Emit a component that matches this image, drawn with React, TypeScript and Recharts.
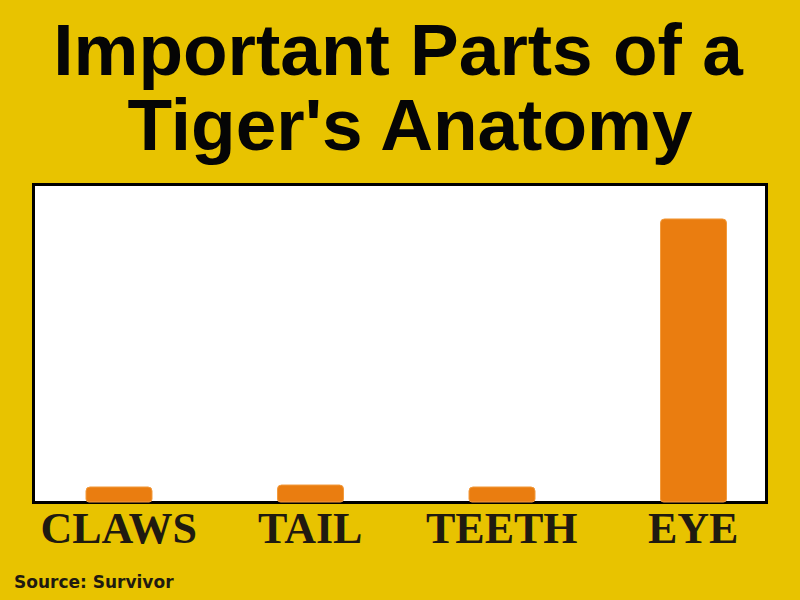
import React from "react";
import { BarChart, Bar, XAxis, YAxis, Cell } from "recharts";

const parts = ["CLAWS", "TAIL", "TEETH", "EYE"];
const importance = [5.3, 6, 5.3, 100];
const yDomain = [0, 112];

const data = parts.map((name, i) => ({ name, value: importance[i] }));

const BG = "#E8C300";
const BAR = "#EA7D10";
const INK = "#1f1a10";

function PartTick(props: any) {
  const { x, y, payload } = props;
  return (
    <text
      x={x}
      y={y}
      dy={41}
      textAnchor="middle"
      fill={INK}
      fontFamily="'Liberation Serif', 'Times New Roman', serif"
      fontWeight={700}
      fontSize={44}
    >
      {payload.value}
    </text>
  );
}

export default function App() {
  return (
    <div
      style={{
        position: "fixed",
        left: 0,
        top: 0,
        width: 800,
        height: 600,
        background: BG,
        overflow: "hidden",
      }}
    >
      <div
        style={{
          position: "absolute",
          left: 0,
          top: 12,
          width: 800,
          textAlign: "center",
          fontFamily: "'Liberation Sans', Arial, sans-serif",
          fontWeight: 700,
          fontSize: 73,
          lineHeight: "75px",
          color: "#050505",
        }}
      >
        <span style={{ display: "block", marginLeft: -4 }}>Important Parts of a</span>
        <span style={{ display: "block", marginLeft: 20 }}>Tiger's Anatomy</span>
      </div>

      {/* white plot box */}
      <div
        style={{
          position: "absolute",
          left: 32,
          top: 183,
          width: 730,
          height: 315,
          background: "#fff",
          border: "3px solid #000",
        }}
      />

      <div style={{ position: "absolute", left: 0, top: 0 }}>
        <BarChart
          width={800}
          height={600}
          data={data}
          margin={{ top: 185, right: 11, bottom: 48, left: 23 }}
        >
          <XAxis
            dataKey="name"
            axisLine={false}
            tickLine={false}
            tickSize={0}
            tickMargin={0}
            height={50}
            interval={0}
            tick={<PartTick />}
          />
          <YAxis hide domain={yDomain} />
          <Bar
            dataKey="value"
            barSize={66}
            radius={[4, 4, 3, 3]}
            stroke="#F29A3C"
            strokeWidth={1}
            isAnimationActive={false}
          >
            {data.map((d) => (
              <Cell key={d.name} fill={BAR} />
            ))}
          </Bar>
        </BarChart>
      </div>

      <div
        style={{
          position: "absolute",
          left: 14,
          top: 572,
          fontFamily: "'DejaVu Sans', Verdana, sans-serif",
          fontWeight: 700,
          fontSize: 17,
          color: INK,
        }}
      >
        Source: Survivor
      </div>
    </div>
  );
}
